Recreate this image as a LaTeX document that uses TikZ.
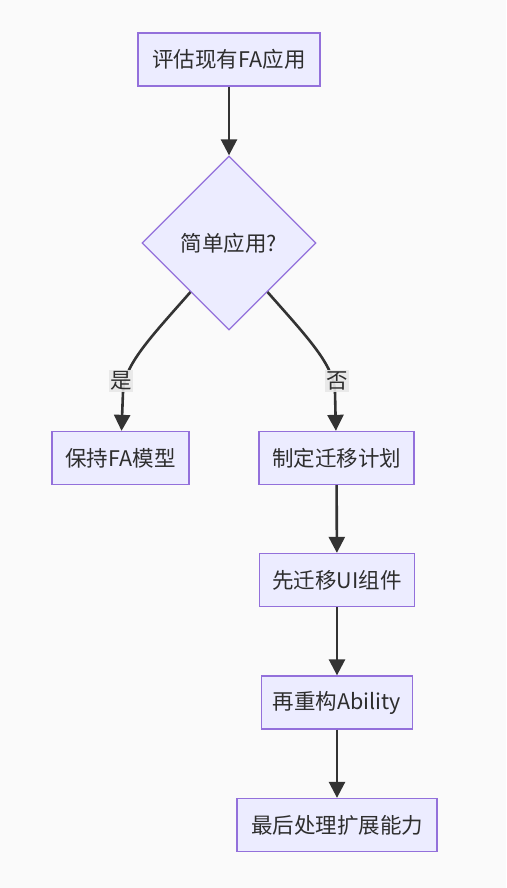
\documentclass[tikz,border=0pt]{standalone}
\usepackage{fontspec}
\newfontfamily\cjk{Noto Sans CJK SC}
\usetikzlibrary{shapes.geometric,arrows.meta,calc}
\definecolor{bg}{HTML}{FAFAFA}
\definecolor{nodefill}{HTML}{ECECFF}
\definecolor{nodeline}{HTML}{9370DB}
\definecolor{edge}{HTML}{333333}
\definecolor{lblbg}{HTML}{E8E8E8}
\tikzset{
  txt/.style={font=\cjk\fontsize{21.5}{25}\selectfont, text=edge!90!black},
  box/.style={txt, draw=nodeline, fill=nodefill, line width=1.3pt, inner sep=0pt, minimum height=53pt},
  dec/.style={txt, diamond, aspect=1, draw=nodeline, fill=nodefill, line width=1.3pt, inner sep=0pt, minimum width=174pt, minimum height=174pt},
  line/.style={draw=edge, line width=2.6pt},
  arr/.style={line, -{Triangle[length=16pt,width=16pt]}},
  lbl/.style={txt, fill=lblbg, fill opacity=0.9, text opacity=1, inner sep=1.5pt}
}
\begin{document}
\begin{tikzpicture}[x=1pt,y=-1pt]
\fill[bg] (0,0) rectangle (506,888);
\useasboundingbox (0,0) rectangle (506,888);
\node[box, minimum width=182pt] (a) at (229,59.5) {评估现有FA应用};
\node[dec] (d) at (229,243) {简单应用?};
\node[box, minimum width=137pt] (b1) at (120.5,458) {保持FA模型};
\node[box, minimum width=155pt] (b2) at (336.5,458) {制定迁移计划};
\node[box, minimum width=155pt] (c) at (337,580) {先迁移UI组件};
\node[box, minimum width=151pt] (e) at (337,702.5) {再重构Ability};
\node[box, minimum width=200pt] (f) at (337,825) {最后处理扩展能力};
\coordinate (s1) at ($(d.west)!0.56!(d.south)$);
\coordinate (s2) at ($(d.east)!0.56!(d.south)$);
\coordinate (m1) at (123,392);
\coordinate (m2) at (335,392);
\draw[arr] (a) -- (d);
\draw[line] (s1) .. controls (150,338) and (124,365) .. (m1);
\draw[arr] (m1) -- (b1);
\draw[line] (s2) .. controls (308,338) and (334,365) .. (m2);
\draw[arr] (m2) -- (b2);
\node[lbl] (l1) at (121,381) {是};
\node[lbl] (l2) at (337,381) {否};
\draw[arr] (b2) -- (c);
\draw[arr] (c) -- (e);
\draw[arr] (e) -- (f);
\end{tikzpicture}
\end{document}
